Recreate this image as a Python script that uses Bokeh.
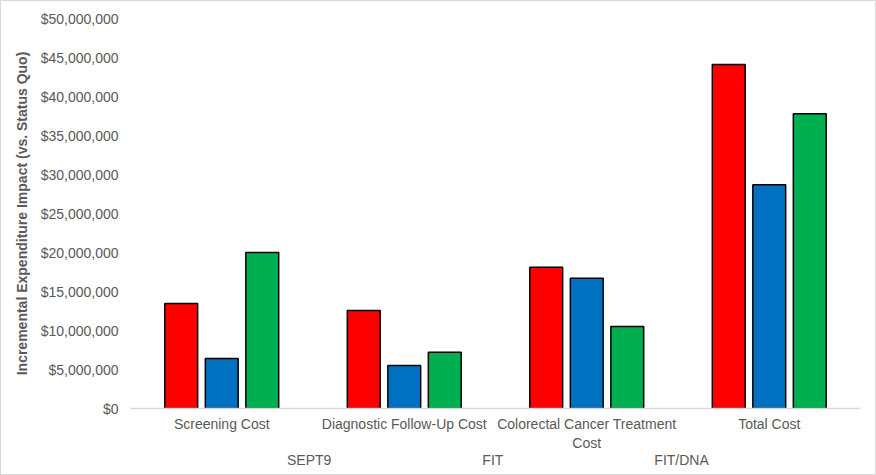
from bokeh.plotting import figure
from bokeh.models import ColumnDataSource, NumeralTickFormatter, Legend, LegendItem, FactorRange, SingleIntervalTicker
from bokeh.layouts import column
from bokeh.transform import dodge
from bokeh.embed import file_html
from bokeh.resources import INLINE

categories = ["Screening Cost", "Diagnostic Follow-Up Cost", "Colorectal Cancer Treatment\nCost", "Total Cost"]
series_names = ["SEPT9", "FIT", "FIT/DNA"]
sept9 = [13450000, 12550000, 18100000, 44100000]
fit = [6400000, 5500000, 16700000, 28700000]
fit_dna = [20000000, 7200000, 10500000, 37800000]
colors = ["#FF0000", "#0070C0", "#00B050"]

src = ColumnDataSource(dict(cat=categories, SEPT9=sept9, FIT=fit, FITDNA=fit_dna))
fields = ["SEPT9", "FIT", "FITDNA"]
offsets = [-0.222, 0.0, 0.222]

p = figure(x_range=FactorRange(*categories), y_range=(0, 50000000),
           width=874, height=452,
           output_backend="svg", toolbar_location=None,
           min_border_left=129, min_border_right=15, min_border_top=17, min_border_bottom=0)

for f, off, c in zip(fields, offsets, colors):
    p.vbar(x=dodge("cat", off, range=p.x_range), top=f, width=0.18, source=src,
           fill_color=c, line_color="black", line_width=1.5)

p.xgrid.grid_line_color = None
p.ygrid.grid_line_color = None
p.outline_line_color = None

p.yaxis.ticker = SingleIntervalTicker(interval=5000000)
p.yaxis.formatter = NumeralTickFormatter(format="$0,0")
p.yaxis.axis_line_color = None
p.yaxis.major_tick_line_color = None
p.yaxis.minor_tick_line_color = None
p.yaxis.major_tick_out = 0
p.yaxis.major_tick_in = 0
p.yaxis.minor_tick_out = 0
p.yaxis.major_label_text_font = "Liberation Sans"
p.yaxis.major_label_text_font_size = "14px"
p.yaxis.major_label_text_color = "#595959"
p.yaxis.major_label_standoff = 12
p.yaxis.axis_label = "Incremental Expenditure Impact (vs. Status Quo)"
p.yaxis.axis_label_text_font = "Liberation Sans"
p.yaxis.axis_label_text_font_size = "14px"
p.yaxis.axis_label_text_font_style = "bold"
p.yaxis.axis_label_text_color = "#595959"
p.yaxis.axis_label_standoff = 8

p.xaxis.axis_line_color = "#d9d9d9"
p.xaxis.axis_line_width = 1.5
p.xaxis.major_tick_line_color = None
p.xaxis.minor_tick_line_color = None
p.xaxis.major_tick_out = 0
p.xaxis.major_tick_in = 0
p.xaxis.minor_tick_out = 0
p.xaxis.major_label_text_font = "Liberation Sans"
p.xaxis.major_label_text_font_size = "14px"
p.xaxis.major_label_text_color = "#595959"
p.xaxis.major_label_standoff = 7

# legend strip: glyphs with an empty source, only the legend swatches show
empty = ColumnDataSource(dict(cat=[], v=[]))
lg = figure(x_range=FactorRange(*categories), y_range=(0, 1), width=874, height=21,
            output_backend="svg", toolbar_location=None, min_border=0)
lg.axis.visible = False
lg.xgrid.grid_line_color = None
lg.ygrid.grid_line_color = None
lg.outline_line_color = None
lrs = []
for off, c in zip(offsets, colors):
    lrs.append(lg.vbar(x=dodge("cat", off, range=lg.x_range), top="v", width=0.18, source=empty,
                       fill_color=c, line_color="black", line_width=1.5))
legend = Legend(items=[LegendItem(label=n, renderers=[r]) for n, r in zip(series_names, lrs)],
                orientation="horizontal", location=(146, 6),
                label_text_font="Liberation Sans", label_text_font_size="14px",
                label_text_color="#595959", glyph_width=8, glyph_height=8,
                label_standoff=3, spacing=140, border_line_color=None,
                background_fill_alpha=0, padding=0, margin=0, label_height=14)
lg.add_layout(legend, "center")

layout = column(p, lg, spacing=0, styles={"border": "1px solid #d9d9d9"})

open("out.html", "w").write(file_html(layout, INLINE))
